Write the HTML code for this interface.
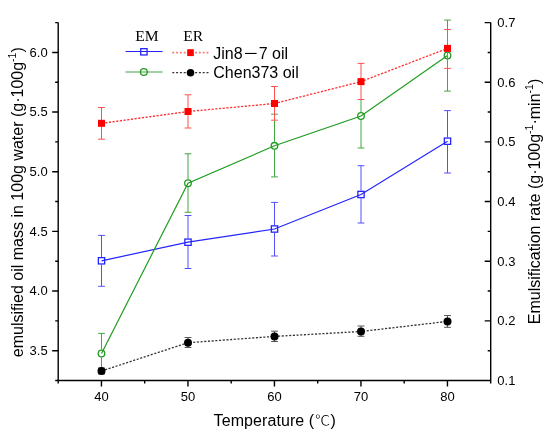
<!DOCTYPE html>
<html><head><meta charset="utf-8"><title>Emulsification chart</title><style>
html,body{margin:0;padding:0;background:#fff;}
svg{display:block;}
</style></head><body>
<svg width="550" height="435" viewBox="0 0 550 435">
<rect width="550" height="435" fill="#fff"/>
<g stroke="#000" stroke-width="1.4" fill="none">
<path d="M58.2 22.6V380.5H490.7V22.6M55.2 380.5H58.2M52.2 350.68H58.2M55.2 320.85H58.2M52.2 291.03H58.2M55.2 261.2H58.2M52.2 231.38H58.2M55.2 201.55H58.2M52.2 171.73H58.2M55.2 141.9H58.2M52.2 112.07H58.2M55.2 82.25H58.2M52.2 52.43H58.2M55.2 22.6H58.2M58.2 380.5V383.5M101.45 380.5V386.5M144.7 380.5V383.5M187.95 380.5V386.5M231.2 380.5V383.5M274.45 380.5V386.5M317.7 380.5V383.5M360.95 380.5V386.5M404.2 380.5V383.5M447.45 380.5V386.5M490.7 380.5V383.5M487.7 350.68H490.7M484.7 320.85H490.7M487.7 291.02H490.7M484.7 261.2H490.7M487.7 231.38H490.7M484.7 201.55H490.7M487.7 171.72H490.7M484.7 141.9H490.7M487.7 112.07H490.7M484.7 82.25H490.7M487.7 52.43H490.7M484.7 22.6H490.7"/>
</g>
<g font-family="Liberation Sans, Arial, sans-serif" font-size="13" fill="#000">
<text x="47.7" y="354.98" text-anchor="end">3.5</text>
<text x="47.7" y="295.33" text-anchor="end">4.0</text>
<text x="47.7" y="235.68" text-anchor="end">4.5</text>
<text x="47.7" y="176.03" text-anchor="end">5.0</text>
<text x="47.7" y="116.37" text-anchor="end">5.5</text>
<text x="47.7" y="56.73" text-anchor="end">6.0</text>
<text x="101.45" y="401" text-anchor="middle">40</text>
<text x="187.95" y="401" text-anchor="middle">50</text>
<text x="274.45" y="401" text-anchor="middle">60</text>
<text x="360.95" y="401" text-anchor="middle">70</text>
<text x="447.45" y="401" text-anchor="middle">80</text>
<text x="497.3" y="384.8">0.1</text>
<text x="497.3" y="325.15">0.2</text>
<text x="497.3" y="265.5">0.3</text>
<text x="497.3" y="205.85">0.4</text>
<text x="497.3" y="146.2">0.5</text>
<text x="497.3" y="86.55">0.6</text>
<text x="497.3" y="26.9">0.7</text>
</g>
<g font-family="Liberation Sans, Arial, sans-serif" font-size="16" fill="#000">
<text x="213.6" y="425.6" letter-spacing="0.08">Temperature (</text>
<text transform="translate(315 425.4) scale(1.08 1)" font-family="Noto Sans CJK SC, sans-serif" font-weight="300" font-size="14">℃</text>
<text x="330.6" y="425.6">)</text>
<text transform="translate(22.6 202.2) rotate(-90)" text-anchor="middle">emulsified oil mass in 100g water (g·100g<tspan font-size="10.5" dy="-7">-1</tspan><tspan dy="7">)</tspan></text>
<text transform="translate(540 201.5) rotate(-90)" text-anchor="middle">Emulsification rate (g·100g<tspan font-size="10.5" dy="-7">-1</tspan><tspan dy="7">·min</tspan><tspan font-size="10.5" dy="-7">-1</tspan><tspan dy="7">)</tspan></text>
</g>
<path d="M101.5 235.4V257M101.5 264.6V286.3M98.1 235.4H104.9M98.1 286.3H104.9" stroke="#5050ff" stroke-width="1.0" fill="none"/>
<path d="M188 215.5V238.4M188 246V268.5M184.6 215.5H191.4M184.6 268.5H191.4" stroke="#5050ff" stroke-width="1.0" fill="none"/>
<path d="M274.5 202.4V225.2M274.5 232.8V256M271.1 202.4H277.9M271.1 256H277.9" stroke="#5050ff" stroke-width="1.0" fill="none"/>
<path d="M361 165.7V190.7M361 198.3V223M357.6 165.7H364.4M357.6 223H364.4" stroke="#5050ff" stroke-width="1.0" fill="none"/>
<path d="M447.5 110.6V137.4M447.5 145V173M444.1 110.6H450.9M444.1 173H450.9" stroke="#5050ff" stroke-width="1.0" fill="none"/>
<polyline points="101.5,260.8 188,242.2 274.5,229 361,194.5 447.5,141.2" stroke="#2424ff" stroke-width="1.2" fill="none"/>
<rect x="98.35" y="257.65" width="6.3" height="6.3" fill="none" stroke="#2424ff" stroke-width="1.3"/>
<rect x="184.85" y="239.05" width="6.3" height="6.3" fill="none" stroke="#2424ff" stroke-width="1.3"/>
<rect x="271.35" y="225.85" width="6.3" height="6.3" fill="none" stroke="#2424ff" stroke-width="1.3"/>
<rect x="357.85" y="191.35" width="6.3" height="6.3" fill="none" stroke="#2424ff" stroke-width="1.3"/>
<rect x="444.35" y="138.05" width="6.3" height="6.3" fill="none" stroke="#2424ff" stroke-width="1.3"/>
<path d="M101.5 333.4V349.6M101.5 357.4V373.6M98.1 333.4H104.9M98.1 373.6H104.9" stroke="#42a642" stroke-width="1.0" fill="none"/>
<path d="M188 153.8V179.3M188 187.1V212.3M184.6 153.8H191.4M184.6 212.3H191.4" stroke="#42a642" stroke-width="1.0" fill="none"/>
<path d="M274.5 120.7V141.9M274.5 149.7V176.9M271.1 114.2H277.9M271.1 176.9H277.9" stroke="#42a642" stroke-width="1.0" fill="none"/>
<path d="M361 100V112.1M361 119.9V148M357.6 84H364.4M357.6 148H364.4" stroke="#42a642" stroke-width="1.0" fill="none"/>
<path d="M447.5 20.1V29M447.5 68.9V91.1M444.1 20.1H450.9M444.1 91.1H450.9" stroke="#42a642" stroke-width="1.0" fill="none"/>
<polyline points="101.5,353.5 188,183.2 274.5,145.8 361,116 447.5,55.5" stroke="#1f9d1f" stroke-width="1.2" fill="none"/>
<circle cx="101.5" cy="353.5" r="3.3" fill="none" stroke="#1f9d1f" stroke-width="1.3"/>
<circle cx="188" cy="183.2" r="3.3" fill="none" stroke="#1f9d1f" stroke-width="1.3"/>
<circle cx="274.5" cy="145.8" r="3.3" fill="none" stroke="#1f9d1f" stroke-width="1.3"/>
<circle cx="361" cy="116" r="3.3" fill="none" stroke="#1f9d1f" stroke-width="1.3"/>
<circle cx="447.5" cy="55.5" r="3.3" fill="none" stroke="#1f9d1f" stroke-width="1.3"/>
<path d="M101.5 107.5V139.2M98.1 107.5H104.9M98.1 139.2H104.9" stroke="#ff5050" stroke-width="1.0" fill="none"/>
<path d="M188 94.8V128M184.6 94.8H191.4M184.6 128H191.4" stroke="#ff5050" stroke-width="1.0" fill="none"/>
<path d="M274.5 86.5V120.2M271.1 86.5H277.9M271.1 120.2H277.9" stroke="#ff5050" stroke-width="1.0" fill="none"/>
<path d="M361 63.4V99.5M357.6 63.4H364.4M357.6 99.5H364.4" stroke="#ff5050" stroke-width="1.0" fill="none"/>
<path d="M447.5 29.5V68.4M444.1 29.5H450.9M444.1 68.4H450.9" stroke="#ff5050" stroke-width="1.0" fill="none"/>
<polyline points="101.5,123.3 188,111.5 274.5,103.5 361,81.6 447.5,48.4" stroke="#ff3030" stroke-width="1.3" fill="none" stroke-dasharray="2.2 1.5"/>
<rect x="98" y="119.8" width="7" height="7" fill="#ff0000"/>
<rect x="184.5" y="108" width="7" height="7" fill="#ff0000"/>
<rect x="271" y="100" width="7" height="7" fill="#ff0000"/>
<rect x="357.5" y="78.1" width="7" height="7" fill="#ff0000"/>
<rect x="444" y="44.9" width="7" height="7" fill="#ff0000"/>
<path d="M101.5 368V374M98.1 368H104.9M98.1 374H104.9" stroke="#555" stroke-width="1.0" fill="none"/>
<path d="M188 337.5V347.5M184.6 337.5H191.4M184.6 347.5H191.4" stroke="#555" stroke-width="1.0" fill="none"/>
<path d="M274.5 331.2V341.5M271.1 331.2H277.9M271.1 341.5H277.9" stroke="#555" stroke-width="1.0" fill="none"/>
<path d="M361 326V336.3M357.6 326H364.4M357.6 336.3H364.4" stroke="#555" stroke-width="1.0" fill="none"/>
<path d="M447.5 315.5V327.3M444.1 315.5H450.9M444.1 327.3H450.9" stroke="#555" stroke-width="1.0" fill="none"/>
<polyline points="101.5,371 188,342.7 274.5,336.4 361,331.5 447.5,321.4" stroke="#333" stroke-width="1.3" fill="none" stroke-dasharray="2.1 1.6"/>
<circle cx="101.5" cy="371" r="4" fill="#000"/>
<circle cx="188" cy="342.7" r="4" fill="#000"/>
<circle cx="274.5" cy="336.4" r="4" fill="#000"/>
<circle cx="361" cy="331.5" r="4" fill="#000"/>
<circle cx="447.5" cy="321.4" r="4" fill="#000"/>
<g font-family="Liberation Serif, Times New Roman, serif" font-size="15.6" fill="#000">
<text x="135.2" y="41">EM</text><text x="183.2" y="41">ER</text></g>
<path d="M125.5 51.5H162.6" stroke="#2424ff" stroke-width="1.2"/>
<rect x="140.75" y="48.65" width="6.3" height="6.3" fill="none" stroke="#2424ff" stroke-width="1.3"/>
<path d="M172.3 52.6H208.6" stroke="#ff7a7a" stroke-width="1.6" stroke-dasharray="1.9 1.9"/>
<rect x="187.2" y="49.2" width="6.6" height="6.9" fill="#ff0000"/>
<path d="M125.5 72H162.6" stroke="#7fc07f" stroke-width="1.6"/>
<circle cx="143.9" cy="72" r="3.4" fill="none" stroke="#1f9d1f" stroke-width="1.3"/>
<path d="M172.3 72.7H208.6" stroke="#333" stroke-width="1.3" stroke-dasharray="2 1.8"/>
<circle cx="190.5" cy="72.7" r="3.8" fill="#000"/>
<g font-family="Liberation Sans, Arial, sans-serif" font-size="16" fill="#000">
<text x="213.3" y="58.6">Jin8<tspan font-family="Noto Sans CJK SC, sans-serif">－</tspan>7 oil</text>
<text x="213.3" y="77.6">Chen373 oil</text></g>
</svg>
</body></html>
